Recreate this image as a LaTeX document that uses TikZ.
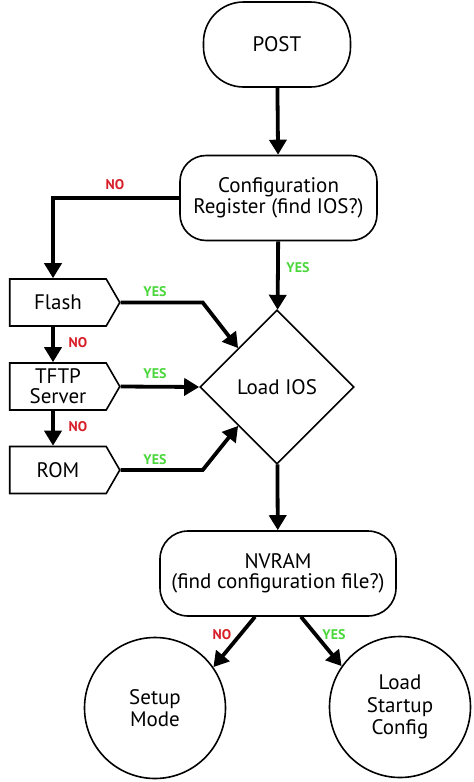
\documentclass[tikz,border=0pt]{standalone}
\usepackage{fontspec}
\setmainfont{PT Sans}
\usetikzlibrary{shapes.geometric,shapes.symbols,arrows.meta}
\definecolor{nored}{RGB}{215,30,40}
\definecolor{yesgreen}{RGB}{75,215,60}
\tikzset{
% Node styles for the boot flow: rounded boxes, decision, sources and end states
round box/.style={rectangle,draw,line width=1.6pt,rounded corners=26pt,align=center,minimum height=85pt,font=\fontsize{21}{21}\selectfont},
decision node/.style={diamond,draw,line width=1.6pt,aspect=1,minimum size=154pt,inner sep=0,font=\fontsize{21}{21}\selectfont},
source node/.style={signal,signal to=east,signal pointer angle=120,draw,line width=1.6pt,align=center,minimum width=110pt,minimum height=47pt,inner sep=0,font=\fontsize{21}{20}\selectfont},
end node/.style={circle,draw,line width=1.6pt,minimum size=141pt,align=center,font=\fontsize{21}{22.5}\selectfont},
flow line/.style={line width=3.8pt,-{Triangle[length=15pt,width=17pt]}},
no label/.style={text=nored,font=\bfseries\fontsize{14}{14}\selectfont},
yes label/.style={text=yesgreen,font=\bfseries\fontsize{14}{14}\selectfont}
}
\begin{document}
\begin{tikzpicture}[x=1pt,y=-1pt]
\useasboundingbox (0,0) rectangle (474,782);
\node[round box, rounded corners=40pt, minimum width=147pt] (post) at (277,44.5) {POST};
\node[round box, minimum width=197pt] (cfg) at (278.5,198) {Configuration\\Register (find IOS?)};
\node[decision node] (ios) at (277,387) {Load IOS};
\node[source node] (flash) at (58,302.5) {Flash};
\node[source node] (tftp) at (58,386.5) {TFTP\\Server};
\node[source node] (rom) at (58,470) {ROM};
\node[round box, rounded corners=28pt, minimum width=236pt, font=\fontsize{21}{20}\selectfont] (nvram) at (278,573.5) {NVRAM\\(find configuration file?)};
\node[end node] (setup) at (155,708) {Setup\\Mode};
\node[end node] (load) at (400,707) {Load\\Startup\\Config};
\coordinate (lane) at (53,0);

\draw[flow line] (post) -- (cfg);
\draw[flow line] (cfg.west) -| (lane |- flash.north);
\draw[flow line] (cfg) -- (ios);
\draw[flow line] (lane |- flash.south) -- (lane |- tftp.north);
\draw[flow line] (lane |- tftp.south) -- (lane |- rom.north);
\draw[flow line] (flash.east) -- ++(82,0) -- (ios.north west);
\draw[flow line] (tftp.east) -- (ios.west);
\draw[flow line] (rom.east) -- ++(82,0) -- (ios.south west);
\draw[flow line] (ios) -- (nvram);
\draw[flow line] ([xshift=-23pt]nvram.south) -- (setup.35);
\draw[flow line] ([xshift=23pt]nvram.south) -- (load.145);

\node[no label] (no1) at (115,185) {NO};
\node[yes label] (yes1) at (298,268) {YES};
\node[yes label] (yes2) at (155,292) {YES};
\node[no label] (no2) at (78,343) {NO};
\node[yes label] (yes3) at (155,374) {YES};
\node[no label] (no3) at (78,427) {NO};
\node[yes label] (yes4) at (155,460) {YES};
\node[no label] (no4) at (222,635) {NO};
\node[yes label] (yes5) at (334,635) {YES};
\end{tikzpicture}
\end{document}
